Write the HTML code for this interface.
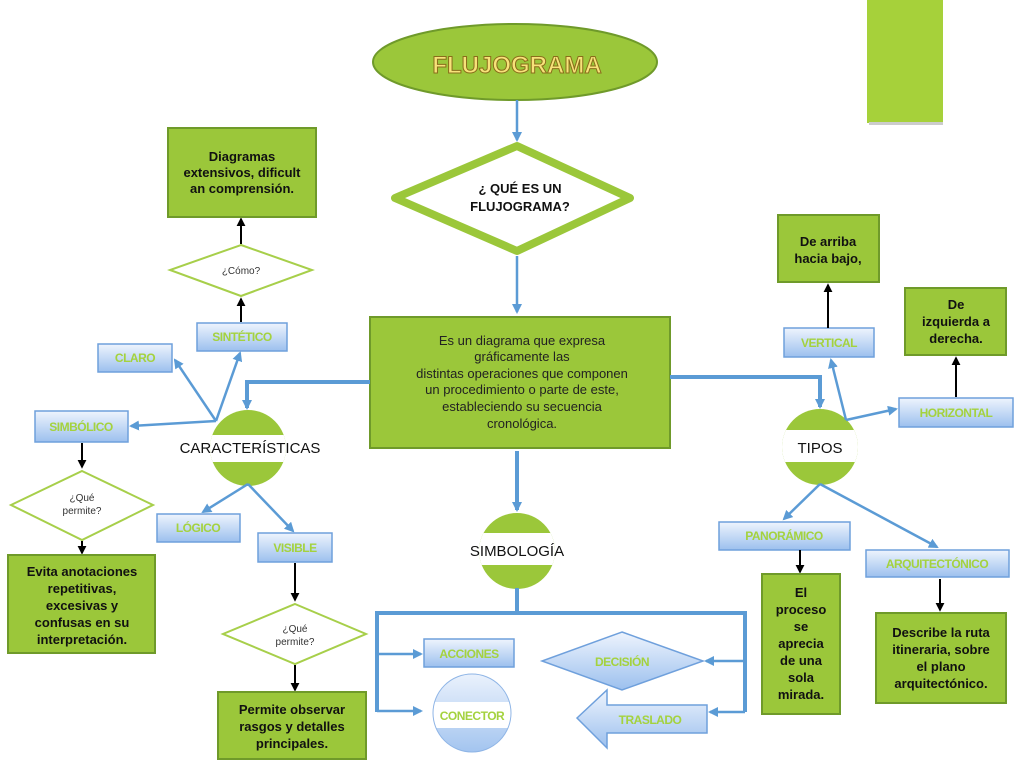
<!DOCTYPE html>
<html><head><meta charset="utf-8"><style>
html,body{margin:0;padding:0;background:#fff;}
svg{display:block;}
.gb{fill:#9bc73a;stroke:#6f9a2a;stroke-width:2;}
.bb{fill:url(#bg);stroke:#6fa0dc;stroke-width:1.5;}
.bl{font-family:"Liberation Sans",sans-serif;font-weight:bold;font-size:12px;fill:#a4d23e;text-anchor:middle;letter-spacing:-0.5px;}
.gt{font-family:"Liberation Sans",sans-serif;font-weight:bold;font-size:13px;fill:#111;text-anchor:middle;}
.ln{stroke:#5b9bd5;stroke-width:2.5;fill:none;}
.lt{stroke:#5b9bd5;stroke-width:4;fill:none;}
.bk{stroke:#000;stroke-width:2;fill:none;}
.sm{font-family:"Liberation Sans",sans-serif;font-size:10px;fill:#333;text-anchor:middle;}
.cir{font-family:"Liberation Sans",sans-serif;font-size:15px;fill:#111;text-anchor:middle;}
</style></head><body>
<svg width="1024" height="768" viewBox="0 0 1024 768" xmlns="http://www.w3.org/2000/svg">
<defs>
<linearGradient id="bg" x1="0" y1="0" x2="0" y2="1"><stop offset="0" stop-color="#eef4fd"/><stop offset="1" stop-color="#9cc0ee"/></linearGradient>
<linearGradient id="cg" x1="0" y1="0" x2="0" y2="1"><stop offset="0" stop-color="#eef4fd"/><stop offset="1" stop-color="#9cc0ee"/></linearGradient>
<marker id="ab" viewBox="0 0 10 10" refX="8" refY="5" markerWidth="10" markerHeight="10" markerUnits="userSpaceOnUse" orient="auto"><path d="M0,0L10,5L0,10z" fill="#5b9bd5"/></marker>
<marker id="ak" viewBox="0 0 10 10" refX="8" refY="5" markerWidth="9" markerHeight="9" markerUnits="userSpaceOnUse" orient="auto"><path d="M0,0L10,5L0,10z" fill="#000"/></marker>
<clipPath id="c1"><circle cx="248" cy="448" r="38"/></clipPath>
<clipPath id="c2"><circle cx="820" cy="447" r="38"/></clipPath>
<clipPath id="c3"><circle cx="517" cy="551" r="38"/></clipPath>
<clipPath id="c4"><circle cx="472" cy="713" r="39"/></clipPath>
</defs>

<rect x="867" y="0" width="76" height="123" fill="#a6d13a"/>
<rect x="869" y="122" width="74" height="3" fill="#ccc"/>

<ellipse cx="515" cy="62" rx="142" ry="38" fill="#9bc73a" stroke="#6f9a2a" stroke-width="2"/>
<text x="517" y="73" font-family="Liberation Sans,sans-serif" font-weight="bold" font-size="24" fill="#f7e27a" stroke="#8a6d1a" stroke-width="1" text-anchor="middle">FLUJOGRAMA</text>

<line class="ln" x1="517" y1="100" x2="517" y2="140" marker-end="url(#ab)"/>
<polygon points="517,146 630,198 517,251 395,198" fill="#fff" stroke="#9bc73a" stroke-width="8" stroke-linejoin="round"/>
<text class="gt" x="520" y="193" font-size="12">¿ QUÉ ES UN</text>
<text class="gt" x="520" y="211" font-size="12">FLUJOGRAMA?</text>
<line class="ln" x1="517" y1="256" x2="517" y2="312" marker-end="url(#ab)"/>

<rect class="gb" x="370" y="317" width="300" height="131"/>
<g font-family="Liberation Sans,sans-serif" font-size="13" fill="#222" text-anchor="middle">
<text x="522" y="345">Es un diagrama que expresa</text>
<text x="522" y="361">gráficamente las</text>
<text x="522" y="378">distintas operaciones que componen</text>
<text x="522" y="394">un procedimiento o parte de este,</text>
<text x="522" y="411">estableciendo su secuencia</text>
<text x="522" y="428">cronológica.</text>
</g>

<polyline class="lt" points="370,382 247,382 247,408" marker-end="url(#ab)"/>
<polyline class="lt" points="670,377 820,377 820,407" marker-end="url(#ab)"/>
<line class="lt" x1="517" y1="451" x2="517" y2="510" marker-end="url(#ab)"/>

<g clip-path="url(#c1)"><rect x="200" y="400" width="100" height="100" fill="#9bc73a"/><rect x="200" y="435" width="100" height="27" fill="#fff"/></g>
<text class="cir" x="250" y="453">CARACTERÍSTICAS</text>
<g clip-path="url(#c2)"><rect x="770" y="400" width="100" height="100" fill="#9bc73a"/><rect x="770" y="430" width="100" height="32" fill="#fff"/></g>
<text class="cir" x="820" y="453">TIPOS</text>
<g clip-path="url(#c3)"><rect x="470" y="505" width="100" height="100" fill="#9bc73a"/><rect x="470" y="533" width="100" height="32" fill="#fff"/></g>
<text class="cir" x="517" y="556">SIMBOLOGÍA</text>

<line class="ln" x1="216" y1="421" x2="131" y2="426" marker-end="url(#ab)"/>
<line class="ln" x1="216" y1="421" x2="175" y2="360" marker-end="url(#ab)"/>
<line class="ln" x1="216" y1="421" x2="240" y2="353" marker-end="url(#ab)"/>
<line class="ln" x1="248" y1="484" x2="203" y2="512" marker-end="url(#ab)"/>
<line class="ln" x1="248" y1="484" x2="293" y2="531" marker-end="url(#ab)"/>

<rect class="bb" x="197" y="323" width="90" height="28"/><text class="bl" x="242" y="341">SINTÉTICO</text>
<rect class="bb" x="98" y="344" width="74" height="28"/><text class="bl" x="135" y="362">CLARO</text>
<rect class="bb" x="35" y="411" width="93" height="31"/><text class="bl" x="81" y="431">SIMBÓLICO</text>
<rect class="bb" x="157" y="514" width="83" height="28"/><text class="bl" x="198" y="532">LÓGICO</text>
<rect class="bb" x="258" y="533" width="74" height="29"/><text class="bl" x="295" y="552">VISIBLE</text>

<line class="bk" x1="241" y1="322" x2="241" y2="299" marker-end="url(#ak)"/>
<polygon points="241,245 312,270 241,296 170,270" fill="#fff" stroke="#a7cf4a" stroke-width="2"/>
<text class="sm" x="241" y="274">¿Cómo?</text>
<line class="bk" x1="241" y1="244" x2="241" y2="219" marker-end="url(#ak)"/>
<rect class="gb" x="168" y="128" width="148" height="89"/>
<text class="gt" x="242" y="161">Diagramas</text>
<text class="gt" x="242" y="177">extensivos, dificult</text>
<text class="gt" x="242" y="193">an comprensión.</text>

<line class="bk" x1="82" y1="443" x2="82" y2="467" marker-end="url(#ak)"/>
<polygon points="82,471 153,505 82,540 11,505" fill="#fff" stroke="#a7cf4a" stroke-width="2"/>
<text class="sm" x="82" y="501">¿Qué</text>
<text class="sm" x="82" y="514">permite?</text>
<line class="bk" x1="82" y1="541" x2="82" y2="553" marker-end="url(#ak)"/>
<rect class="gb" x="8" y="555" width="147" height="98"/>
<text class="gt" x="82" y="576">Evita anotaciones</text>
<text class="gt" x="82" y="593">repetitivas,</text>
<text class="gt" x="82" y="610">excesivas y</text>
<text class="gt" x="82" y="627">confusas en su</text>
<text class="gt" x="82" y="644">interpretación.</text>

<line class="bk" x1="295" y1="563" x2="295" y2="600" marker-end="url(#ak)"/>
<polygon points="295,604 366,634 295,664 223,634" fill="#fff" stroke="#a7cf4a" stroke-width="2"/>
<text class="sm" x="295" y="632">¿Qué</text>
<text class="sm" x="295" y="645">permite?</text>
<line class="bk" x1="295" y1="665" x2="295" y2="690" marker-end="url(#ak)"/>
<rect class="gb" x="218" y="692" width="148" height="67"/>
<text class="gt" x="292" y="714">Permite observar</text>
<text class="gt" x="292" y="731">rasgos y detalles</text>
<text class="gt" x="292" y="748">principales.</text>

<line class="ln" x1="846" y1="420" x2="831" y2="360" marker-end="url(#ab)"/>
<line class="ln" x1="846" y1="420" x2="896" y2="409" marker-end="url(#ab)"/>
<line class="ln" x1="820" y1="484" x2="784" y2="519" marker-end="url(#ab)"/>
<line class="ln" x1="820" y1="484" x2="937" y2="547" marker-end="url(#ab)"/>
<rect class="bb" x="784" y="328" width="90" height="29"/><text class="bl" x="829" y="347">VERTICAL</text>
<rect class="bb" x="899" y="398" width="114" height="29"/><text class="bl" x="956" y="417">HORIZONTAL</text>
<rect class="bb" x="719" y="522" width="131" height="28"/><text class="bl" x="784" y="540">PANORÁMICO</text>
<rect class="bb" x="866" y="550" width="143" height="27"/><text class="bl" x="937" y="568">ARQUITECTÓNICO</text>

<line class="bk" x1="828" y1="328" x2="828" y2="285" marker-end="url(#ak)"/>
<rect class="gb" x="778" y="215" width="101" height="67"/>
<text class="gt" x="828" y="246">De arriba</text>
<text class="gt" x="828" y="263">hacia bajo,</text>
<line class="bk" x1="956" y1="397" x2="956" y2="358" marker-end="url(#ak)"/>
<rect class="gb" x="905" y="288" width="101" height="67"/>
<text class="gt" x="956" y="309">De</text>
<text class="gt" x="956" y="326">izquierda a</text>
<text class="gt" x="956" y="343">derecha.</text>
<line class="bk" x1="800" y1="550" x2="800" y2="572" marker-end="url(#ak)"/>
<rect class="gb" x="762" y="574" width="78" height="140"/>
<text class="gt" x="801" y="597">El</text>
<text class="gt" x="801" y="614">proceso</text>
<text class="gt" x="801" y="631">se</text>
<text class="gt" x="801" y="648">aprecia</text>
<text class="gt" x="801" y="665">de una</text>
<text class="gt" x="801" y="682">sola</text>
<text class="gt" x="801" y="699">mirada.</text>
<line class="bk" x1="940" y1="579" x2="940" y2="610" marker-end="url(#ak)"/>
<rect class="gb" x="876" y="613" width="130" height="90"/>
<text class="gt" x="941" y="637">Describe la ruta</text>
<text class="gt" x="941" y="654">itineraria, sobre</text>
<text class="gt" x="941" y="671">el plano</text>
<text class="gt" x="941" y="688">arquitectónico.</text>

<line class="lt" x1="517" y1="588" x2="517" y2="613"/>
<polyline class="lt" points="377,712 377,613 745,613 745,712"/>
<line class="ln" x1="377" y1="654" x2="421" y2="654" marker-end="url(#ab)"/>
<line class="ln" x1="377" y1="711" x2="421" y2="711" marker-end="url(#ab)"/>
<line class="ln" x1="745" y1="661" x2="706" y2="661" marker-end="url(#ab)"/>
<line class="ln" x1="745" y1="712" x2="710" y2="712" marker-end="url(#ab)"/>

<rect class="bb" x="424" y="639" width="90" height="28"/><text class="bl" x="469" y="658">ACCIONES</text>
<polygon points="622,632 703,661 622,690 542,661" fill="url(#bg)" stroke="#6fa0dc" stroke-width="1.5"/>
<text class="bl" x="622" y="666">DECISIÓN</text>
<g clip-path="url(#c4)"><rect x="430" y="670" width="90" height="90" fill="url(#cg)"/><rect x="430" y="702" width="90" height="26" fill="#fff"/></g>
<circle cx="472" cy="713" r="39" fill="none" stroke="#8fb5e6" stroke-width="1"/>
<text class="bl" x="472" y="720">CONECTOR</text>
<polygon points="577,718 607,690 607,705 707,705 707,733 607,733 607,748" fill="url(#bg)" stroke="#6fa0dc" stroke-width="1.5"/>
<text class="bl" x="650" y="724">TRASLADO</text>
</svg>
</body></html>
